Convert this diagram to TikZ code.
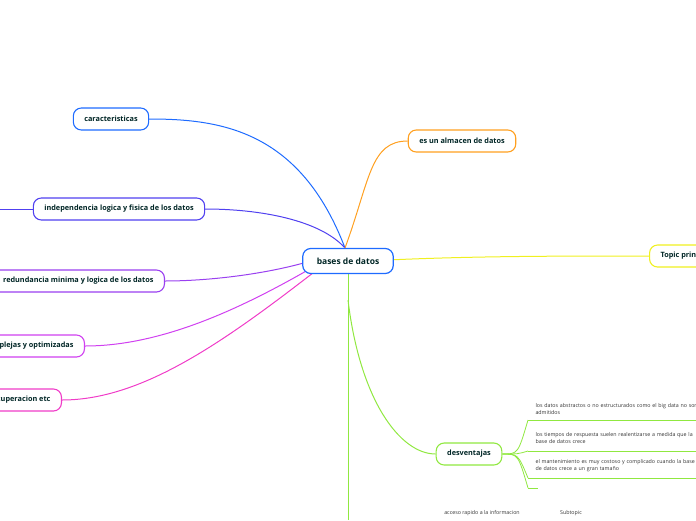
\documentclass[tikz,border=0pt]{standalone}
\usepackage{fontspec}
\setmainfont{Open Sans}
\begin{document}
\begin{tikzpicture}[x=1pt,y=-1pt,
 topic/.style={draw,line width=1.1pt,rounded corners=8pt,fill=white,font=\bfseries\fontsize{7.3}{8}\selectfont,text=black!70!teal,minimum height=22pt,inner xsep=11pt},
 sub/.style={font=\fontsize{5.3}{7}\selectfont,text=black!80,align=left,anchor=west,text width=165pt},
 br/.style={line width=1pt}]
\useasboundingbox (0,0) rectangle (696,520);
\clip (0,0) rectangle (696,520);
\definecolor{cblue}{HTML}{1E6BFF}
\definecolor{cind}{HTML}{5040F0}
\definecolor{cpur}{HTML}{9A40F0}
\definecolor{cmag}{HTML}{D040F0}
\definecolor{cpink}{HTML}{F03CC8}
\definecolor{corg}{HTML}{FFA020}
\definecolor{cyel}{HTML}{F0F020}
\definecolor{cgrn}{HTML}{90E840}
\coordinate (o) at (345,248);
\draw[br,cgrn] (348,270) -- (348,520);
\node[topic,draw=cblue] (car) at (111,119) {caracteristicas};
\node[topic,draw=cind] (ind) at (119,209) {independencia logica y fisica de los datos};
\node[topic,draw=cpur,anchor=east] (red) at (165,281) {redundancia minima y logica de los datos};
\node[topic,draw=cmag,anchor=east] (con) at (85,346) {consultas complejas y optimizadas};
\node[topic,draw=cpink,anchor=east] (seg) at (62,400) {seguridad y recuperacion etc};
\node[topic,draw=corg] (alm) at (462,141) {es un almacen de datos};
\node[topic,draw=cyel,anchor=west] (top) at (649,256) {Topic principal};
\node[topic,draw=cgrn] (des) at (469,454) {desventajas};
\draw[br,cblue] (o) .. controls (300,130) and (220,119) .. (car.east);
\draw[br,cind] (o) .. controls (320,220) and (260,209) .. (ind.east);
\draw[br,cpur] (o) .. controls (300,270) and (220,281) .. (red.east);
\draw[br,cmag] (o) .. controls (260,300) and (170,346) .. (con.east);
\draw[br,cpink] (o) .. controls (240,330) and (150,400) .. (seg.east);
\draw[br,corg] (o) .. controls (370,180) and (370,141) .. (alm.west);
\draw[br,cyel] (350,262) .. controls (450,256) and (550,256) .. (top.west);
\draw[br,cgrn] (348,300) .. controls (360,400) and (400,454) .. (des.west);
\coordinate (iw) at (0,209);
\draw[br,cind] (ind.west) -- (iw);
\node[topic,draw=cblue,line width=1.2pt,font=\bfseries\fontsize{8.5}{10}\selectfont,minimum height=25pt,inner xsep=14pt] (c) at (348,261) {bases de datos};
\coordinate (s1) at (528,420); \coordinate (s2) at (528,451);
\coordinate (s3) at (528,478); \coordinate (s4) at (528,488);
\foreach \s in {s1,s2,s3,s4}
 \draw[cgrn,line width=0.8pt] (des.east) .. controls (518,454) and (518,454) .. (\s);
\foreach \s in {s1,s2,s3} \draw[cgrn,line width=1pt] (\s) -- ++(170,0);
\draw[cgrn,line width=1pt] (s4) -- ++(10,0);
\node[sub] (t1) at (532,409) {los datos abstractos o no estructurados como el big data no son admitidos};
\node[sub] (t2) at (532,438) {los tiempos de respuesta suelen realentizarse a medida que la base de datos crece};
\node[sub] (t3) at (532,466) {el mantenimiento es muy costoso y complicado cuando la base de datos crece a un gran tamaño};
\node[font=\fontsize{5.3}{6}\selectfont,text=black!80] (a1) at (482,513) {acceso rapido a la informacion};
\node[font=\fontsize{5.3}{6}\selectfont,text=black!80] (a2) at (571,513) {Subtopic};
\end{tikzpicture}
\end{document}
